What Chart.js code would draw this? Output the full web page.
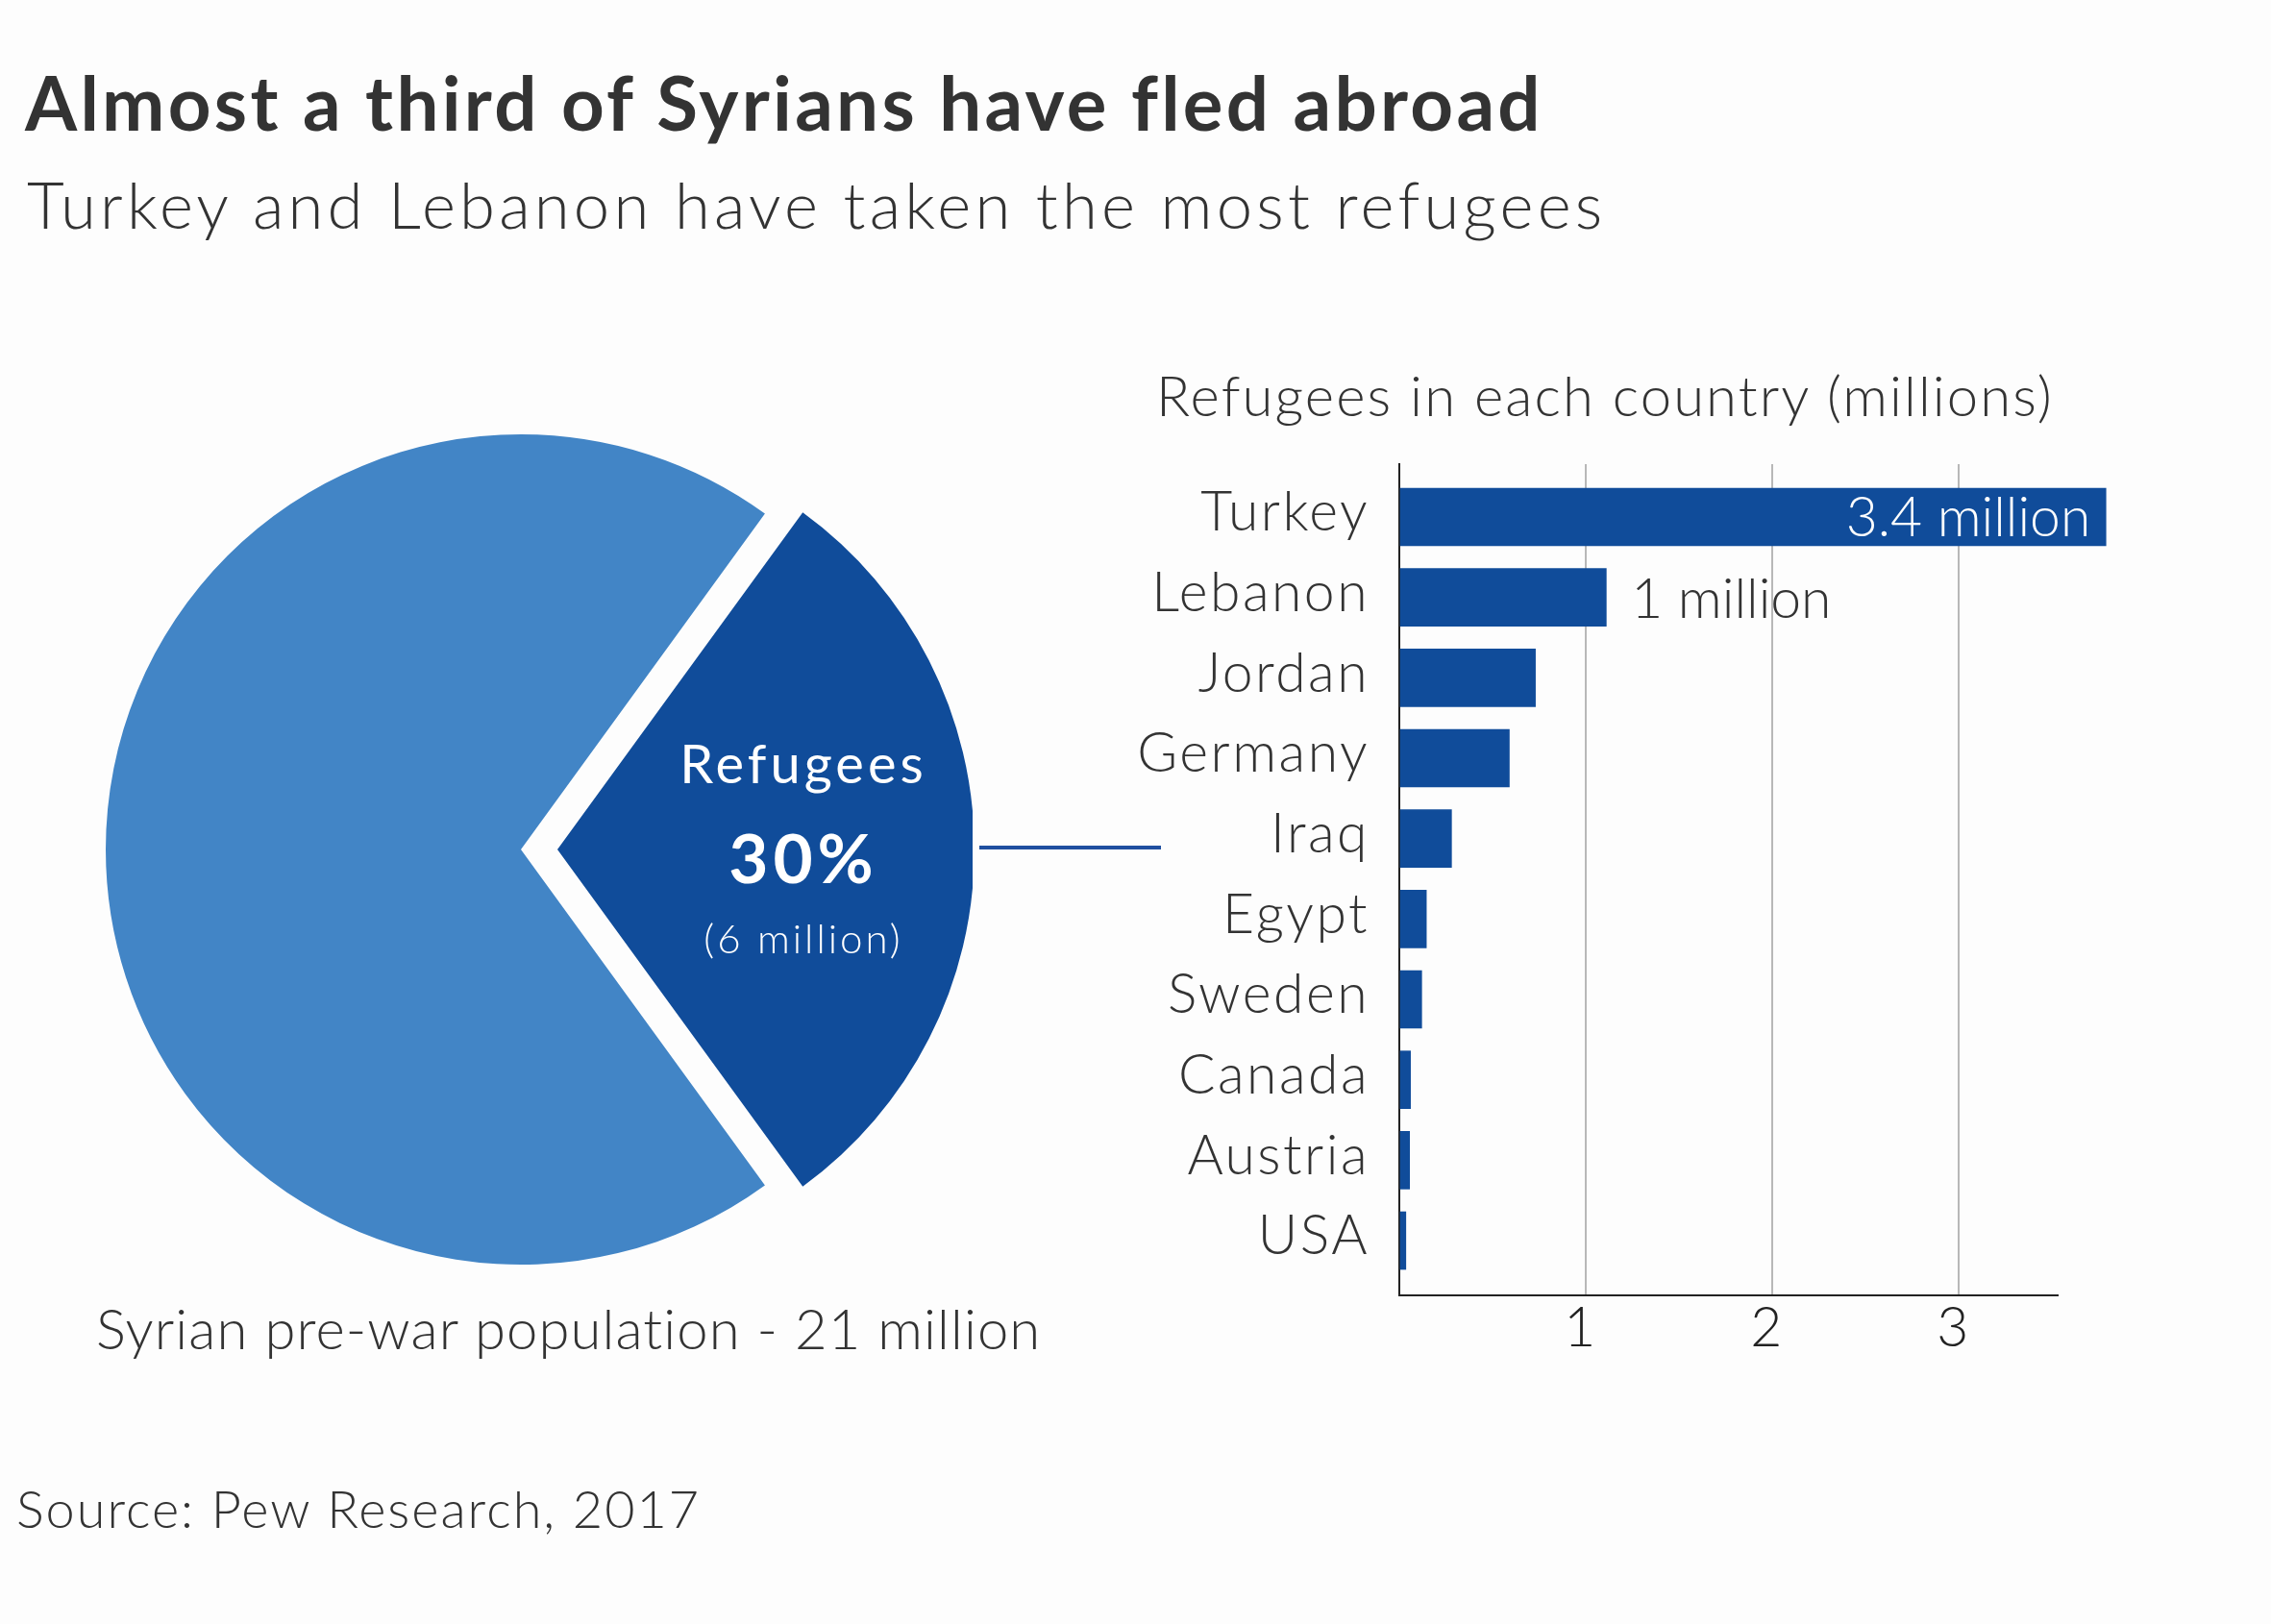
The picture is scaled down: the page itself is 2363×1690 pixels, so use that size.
<!DOCTYPE html>
<html>
<head>
<meta charset="utf-8">
<script src="https://cdn.jsdelivr.net/npm/chart.js@4.4.1/dist/chart.umd.min.js"></script>
<style>
  html, body { margin: 0; padding: 0; background: #fdfdfd; }
  #page { position: relative; width: 2363px; height: 1690px; overflow: hidden; font-family: Lato, 'Open Sans', sans-serif; color: #333; }
  .t { position: absolute; white-space: nowrap; line-height: 1; }
  #title    { left: 26px; top: 67px; font-size: 78px; font-weight: 700; letter-spacing: 3.3px; }
  #subtitle { left: 28px; top: 179px; font-size: 67px; font-weight: 300; letter-spacing: 4.2px; }
  #bar-title{ left: 1203px; top: 382px; font-size: 58px; font-weight: 300; letter-spacing: 2.1px; }
  #pop-note { left: 100px; top: 1353px; font-size: 58px; font-weight: 300; letter-spacing: 1.1px; }
  #source   { left: 17px; top: 1543px; font-size: 54px; font-weight: 300; letter-spacing: 2px; }
  .pie-txt  { left: 636px; width: 400px; text-align: center; color: #fff; }
  #pie-lbl  { top: 766px; font-size: 56px; font-weight: 400; letter-spacing: 4px; }
  #pie-pct  { top: 856px; font-size: 71px; font-weight: 700; letter-spacing: 5px; }
  #pie-abs  { top: 955px; font-size: 42px; font-weight: 300; letter-spacing: 3px; }
  #connector { position: absolute; left: 1019px; top: 880px; width: 189px; height: 4px; background: #1f4fa0; }
  #pie-wrap { position: absolute; left: 72px; top: 414px; width: 940px; height: 940px; }
  #bar-wrap { position: absolute; left: 1150px; top: 440px; width: 1213px; height: 991px; }
</style>
</head>
<body>
<div id="page">
  <div class="t" id="title">Almost a third of Syrians have fled abroad</div>
  <div class="t" id="subtitle">Turkey and Lebanon have taken the most refugees</div>
  <div class="t" id="bar-title">Refugees in each country (millions)</div>

  <div id="pie-wrap"><canvas id="pie-chart"></canvas></div>
  <div class="t pie-txt" id="pie-lbl">Refugees</div>
  <div class="t pie-txt" id="pie-pct">30%</div>
  <div class="t pie-txt" id="pie-abs">(6 million)</div>
  <div id="connector"></div>

  <div id="bar-wrap"><canvas id="bar-chart"></canvas></div>

  <div class="t" id="pop-note">Syrian pre-war population - 21 million</div>
  <div class="t" id="source">Source: Pew Research, 2017</div>
</div>

<script>
'use strict';

// ─── Data ─────────────────────────────────────────────────────────────────────
const PIE_LABELS = ['Refugees', 'Remaining population'];
const PIE_VALUES = [30, 70];

const COUNTRIES  = ['Turkey', 'Lebanon', 'Jordan', 'Germany', 'Iraq', 'Egypt', 'Sweden', 'Canada', 'Austria', 'USA'];
const REFUGEES   = [3.79, 1.11, 0.73, 0.59, 0.28, 0.145, 0.12, 0.06, 0.055, 0.035];
const BAR_LABELS = ['3.4 million', '1 million', '', '', '', '', '', '', '', ''];
const X_TICKS    = [0, 1, 2, 3];

const DARK  = '#104c9a';
const LIGHT = '#4285c6';
const FONT  = 'Lato';

Chart.defaults.font.family = FONT;
Chart.defaults.animation = false;

// ─── Pie ──────────────────────────────────────────────────────────────────────
// Chart.js v4 moves an arc by offset/4, so 152 gives the ~38px pull-out
new Chart(document.getElementById('pie-chart'), {
  type: 'pie',
  data: {
    labels: PIE_LABELS,
    datasets: [{
      data: PIE_VALUES,
      backgroundColor: [DARK, LIGHT],
      offset: [152, 0],
      hoverOffset: 0,
      borderWidth: 0,
    }]
  },
  options: {
    responsive: true,
    maintainAspectRatio: false,
    rotation: 36,
    radius: 432,
    events: [],
    layout: { padding: 0 },
    plugins: { legend: { display: false }, tooltip: { enabled: false } }
  }
});

// ─── Bars ─────────────────────────────────────────────────────────────────────
// wider tracking for the axis labels, reset before the value labels
const tracking = {
  id: 'tracking',
  beforeDraw(chart) { chart.ctx.letterSpacing = '2.5px'; },
  beforeDatasetsDraw(chart) { chart.ctx.letterSpacing = '0px'; },
};

// value labels: white inside Turkey's bar, dark outside Lebanon's
const barLabels = {
  id: 'barLabels',
  afterDatasetsDraw(chart) {
    const ctx = chart.ctx;
    const meta = chart.getDatasetMeta(0);
    ctx.save();
    ctx.font = `300 57px ${FONT}`;
    ctx.textBaseline = 'alphabetic';
    meta.data.forEach((bar, i) => {
      const txt = BAR_LABELS[i];
      if (!txt) return;
      if (i === 0) {
        ctx.fillStyle = '#ffffff';
        ctx.textAlign = 'right';
        ctx.fillText(txt, bar.x - 16, bar.y + 20);
      } else {
        ctx.fillStyle = '#333333';
        ctx.textAlign = 'left';
        ctx.fillText(txt, bar.x + 26, bar.y + 21);
      }
    });
    ctx.restore();
  }
};

new Chart(document.getElementById('bar-chart'), {
  type: 'bar',
  data: {
    datasets: [{
      data: REFUGEES.map((v, i) => ({ x: v, y: i })),
      backgroundColor: DARK,
      borderWidth: 0,
      barThickness: 60,
      clip: false,
    }]
  },
  options: {
    indexAxis: 'y',
    responsive: true,
    maintainAspectRatio: false,
    events: [],
    layout: { padding: { top: 43, right: 222, left: 0, bottom: 0 } },
    plugins: { legend: { display: false }, tooltip: { enabled: false } },
    scales: {
      x: {
        type: 'linear',
        position: 'bottom',
        min: 0,
        max: 3.531,
        afterBuildTicks: s => { s.ticks = X_TICKS.map(v => ({ value: v })); },
        afterFit: s => { s.height = 83; s.paddingLeft = 0; s.paddingRight = 0; },
        ticks: {
          callback: v => (v === 0 ? '' : String(v)),
          color: '#222',
          font: { size: 57, weight: 300 },
          padding: 0,
          labelOffset: -5,
          maxRotation: 0,
        },
        grid: {
          color: c => (c.tick && c.tick.value === 0 ? 'rgba(0,0,0,0)' : '#b8b8b8'),
          lineWidth: 2,
          drawTicks: false,
        },
        border: { display: true, color: '#222', width: 2 },
      },
      y: {
        type: 'linear',
        reverse: true,
        offset: false,
        bounds: 'data',
        min: -0.657,
        max: 9.681,
        afterBuildTicks: s => { s.ticks = COUNTRIES.map((_, i) => ({ value: i })); },
        afterFit: s => { s.width = 306; s.paddingTop = 0; s.paddingBottom = 0; },
        ticks: {
          callback: v => COUNTRIES[v],
          color: '#333',
          font: { size: 57, weight: 300 },
          padding: 31,
          labelOffset: -4,
        },
        grid: { display: false, drawTicks: false, offset: false },
        border: { display: true, color: '#222', width: 2 },
      }
    }
  },
  plugins: [tracking, barLabels]
});
</script>
</body>
</html>
